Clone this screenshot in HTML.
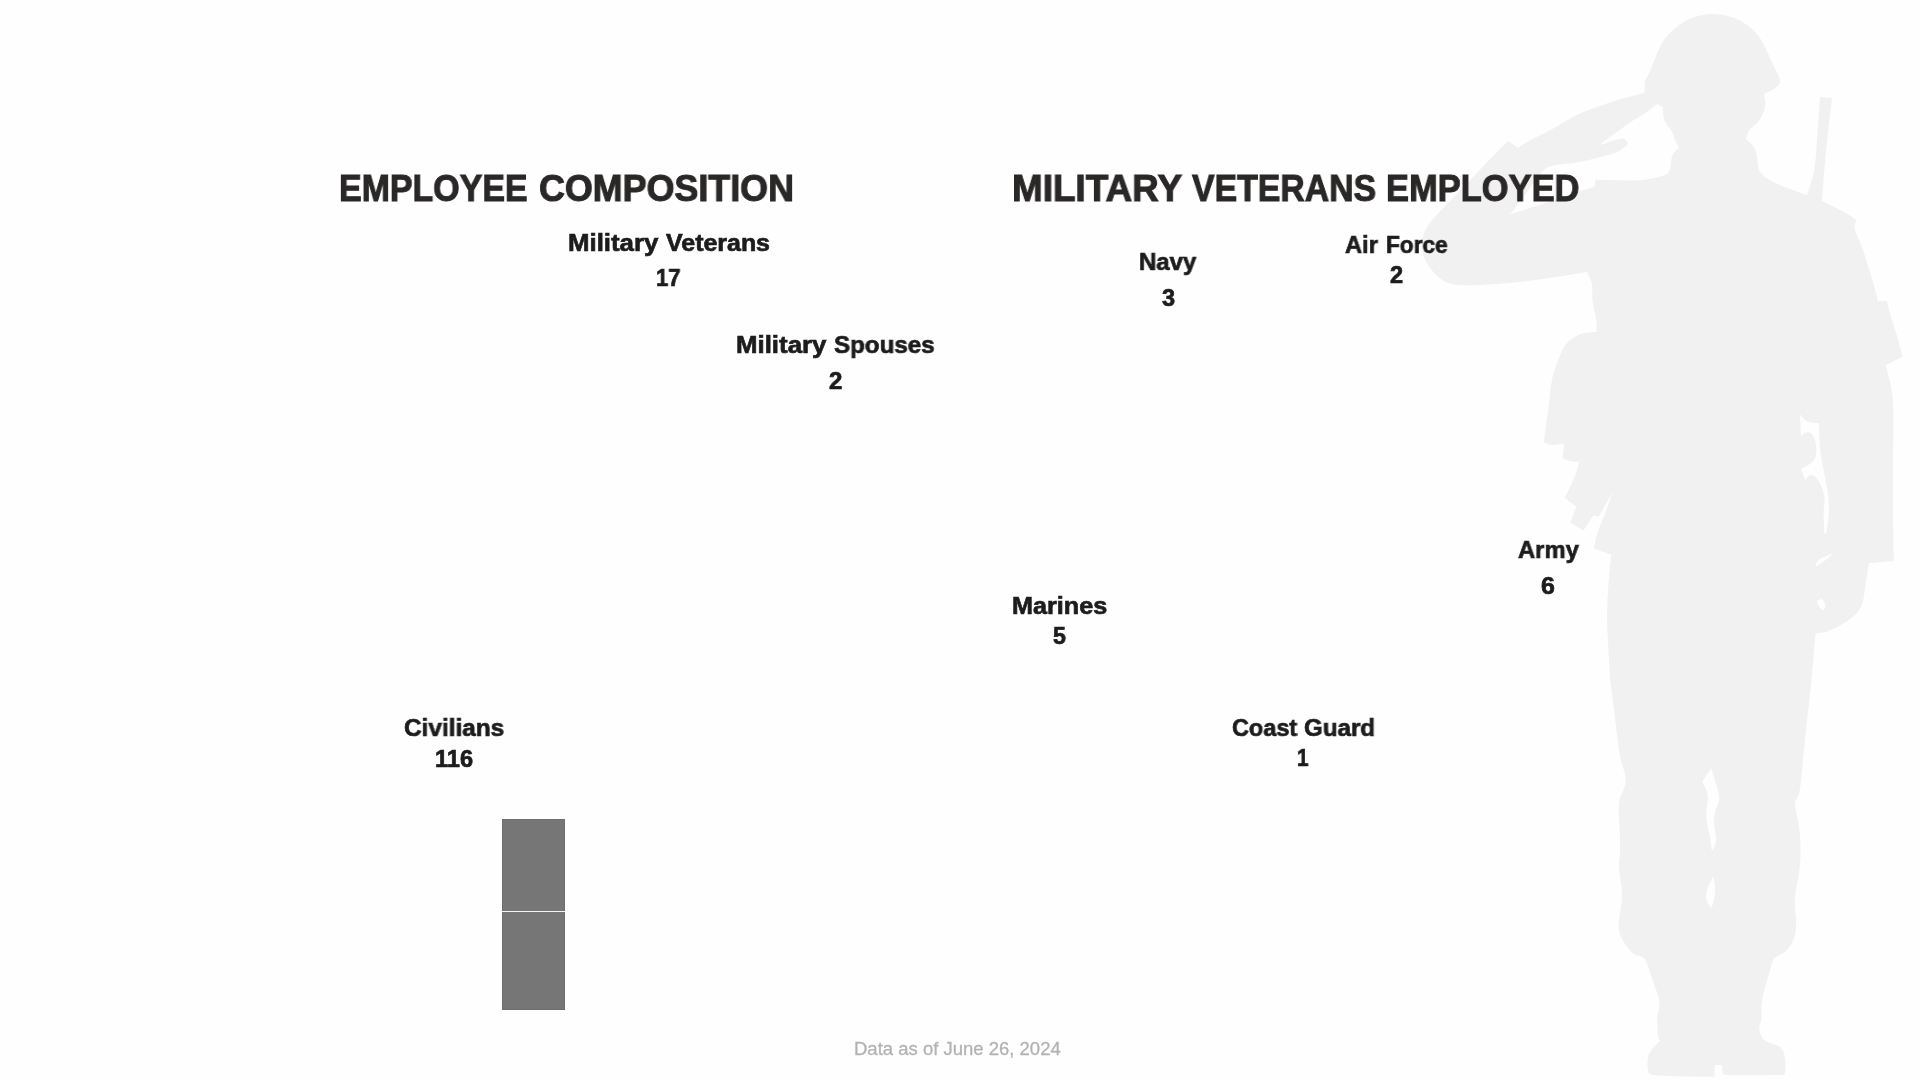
<!DOCTYPE html>
<html lang="en">
<head>
<meta charset="utf-8">
<title>Employee Composition &amp; Military Veterans Employed</title>
<style>
html,body{margin:0;padding:0;}
body{width:1920px;height:1080px;overflow:hidden;background:#fefefe;position:relative;
 font-family:"Liberation Sans",sans-serif;}
.stage{position:absolute;left:0;top:0;width:1920px;height:1080px;overflow:hidden;}
.sil{position:absolute;left:0;top:0;width:1920px;height:1080px;}
section,dl,footer,.item{margin:0;padding:0;display:block;}
h2,.l,.v,.f{position:absolute;left:0;top:0;margin:0;padding:0;line-height:1;white-space:nowrap;display:block;}
h2{font-size:37.4px;font-weight:700;color:#2a2727;-webkit-text-stroke:1.0px #2a2727;}
.l,.v{font-size:24.7px;font-weight:700;color:#1c1c1c;-webkit-text-stroke:0.7px #1c1c1c;}
.v{font-size:23.4px;}
.f{font-size:18.5px;font-weight:400;color:#b2b2b2;-webkit-text-stroke:.3px #b2b2b2;}
.w{position:absolute;top:0;display:block;white-space:nowrap;transform-origin:0 0;will-change:transform;}
.bar{position:absolute;left:502px;top:819px;width:63px;height:191px;background:#767676;box-shadow:inset 0 0 0 1px #6e6e6e;}
.bar i{position:absolute;left:0;right:0;top:91.5px;height:1.5px;background:#f4f4f4;display:block;}
</style>
</head>
<body>
<div class="stage">
<svg class="sil" viewBox="0 0 1920 1080" width="1920" height="1080" aria-hidden="true">
<path fill="#f1f1f1" fill-rule="evenodd" d="M1644.5,90.5 Q1645.0,88.0 1644.5,85.0 Q1644.0,82.0 1647.0,77.0 Q1650.0,72.0 1652.5,65.0 Q1655.0,58.0 1658.5,50.0 Q1662.0,42.0 1667.0,36.0 Q1672.0,30.0 1679.0,25.0 Q1686.0,20.0 1693.0,17.5 Q1700.0,15.0 1707.0,14.3 Q1714.0,13.6 1721.0,14.6 Q1728.0,15.6 1735.0,18.3 Q1742.0,21.0 1748.0,25.5 Q1754.0,30.0 1758.5,36.0 Q1763.0,42.0 1766.0,49.0 Q1769.0,56.0 1772.0,62.5 Q1775.0,69.0 1778.0,74.5 Q1781.0,80.0 1779.5,83.5 Q1778.0,87.0 1771.0,90.5 L1764.0,94.0 L1765.0,99.0 Q1766.0,104.0 1764.5,109.0 Q1763.0,114.0 1760.5,118.5 Q1758.0,123.0 1753.5,126.0 Q1749.0,129.0 1747.5,134.0 L1746.0,139.0 L1751.0,143.5 Q1756.0,148.0 1757.0,157.0 Q1758.0,166.0 1759.0,170.0 Q1760.0,174.0 1768.0,179.0 Q1776.0,184.0 1791.5,189.5 L1807.0,195.0 L1808.5,190.5 Q1810.0,186.0 1812.5,178.0 Q1815.0,170.0 1816.5,147.0 Q1818.0,124.0 1819.0,110.5 L1820.0,97.0 L1826.0,97.5 L1832.0,98.0 L1830.5,111.0 Q1829.0,124.0 1827.0,142.0 Q1825.0,160.0 1823.5,180.5 L1822.0,201.0 L1833.2,206.6 Q1844.4,212.2 1850.6,216.1 L1856.7,220.0 L1855.0,223.9 Q1853.3,227.8 1857.8,237.2 Q1862.2,246.7 1865.6,257.8 Q1868.9,268.9 1871.7,277.8 Q1874.4,286.7 1876.1,293.9 L1877.8,301.1 L1882.2,301.1 L1886.7,301.1 L1888.9,309.5 Q1891.1,317.8 1894.4,327.8 Q1897.8,337.8 1900.2,347.2 L1902.7,356.7 L1894.2,361.1 L1885.6,365.6 L1888.3,375.0 Q1891.1,384.4 1892.2,393.3 Q1893.3,402.2 1893.3,417.8 Q1893.3,433.3 1893.0,466.6 Q1892.7,500.0 1893.2,530.5 L1893.8,561.0 L1881.3,562.1 L1868.9,563.3 L1867.2,573.8 Q1865.6,584.4 1863.9,596.6 Q1862.2,608.9 1854.5,615.5 Q1846.7,622.2 1836.7,627.2 Q1826.7,632.2 1821.2,632.8 L1815.6,633.3 L1815.0,639.1 Q1814.4,645.0 1813.0,662.9 Q1811.6,680.7 1809.3,700.4 Q1807.0,720.0 1806.0,730.0 Q1805.0,740.0 1804.0,750.2 Q1802.9,760.4 1801.4,777.7 Q1799.9,795.0 1796.8,798.5 Q1793.7,802.1 1796.2,811.8 Q1798.8,821.5 1799.8,833.7 Q1800.9,845.9 1800.4,859.1 Q1799.9,872.4 1796.8,885.6 Q1793.7,898.9 1795.2,911.1 Q1796.8,923.4 1795.8,930.5 Q1794.8,937.6 1792.2,942.7 Q1789.5,947.8 1786.2,950.7 Q1783.0,953.6 1777.8,955.9 Q1772.6,958.2 1771.7,963.4 Q1770.7,968.5 1768.8,975.0 Q1766.8,981.5 1764.5,989.3 Q1762.3,997.1 1761.7,1003.5 Q1761.0,1010.0 1761.7,1014.5 Q1762.3,1019.1 1760.7,1022.3 Q1759.0,1025.6 1759.3,1029.5 Q1759.7,1033.4 1761.7,1037.0 Q1763.6,1040.5 1767.4,1042.1 Q1771.3,1043.7 1775.8,1045.0 Q1780.4,1046.3 1782.7,1050.2 Q1785.0,1054.1 1785.3,1061.9 Q1785.6,1069.7 1784.9,1072.3 L1784.3,1074.9 L1755.2,1075.2 Q1726.0,1075.5 1724.3,1074.5 Q1722.7,1073.6 1722.4,1069.3 L1722.1,1065.1 L1718.5,1065.1 L1714.9,1065.1 L1714.6,1070.9 L1714.3,1076.8 L1682.5,1076.5 Q1650.7,1076.2 1649.1,1073.6 Q1647.5,1071.0 1647.5,1063.8 Q1647.5,1056.7 1649.1,1053.5 Q1650.7,1050.2 1655.2,1045.7 L1659.8,1041.1 L1658.5,1037.2 Q1657.2,1033.4 1657.6,1029.5 Q1657.9,1025.6 1657.2,1021.0 Q1656.6,1016.5 1658.2,1012.0 Q1659.8,1007.4 1659.5,1002.9 Q1659.2,998.4 1656.6,991.2 Q1654.0,984.1 1651.1,975.7 Q1648.2,967.2 1646.6,962.4 Q1644.9,957.5 1641.3,956.5 Q1637.8,955.6 1635.3,954.8 Q1632.8,953.9 1627.7,947.8 Q1622.6,941.7 1620.0,934.5 Q1617.5,927.4 1619.0,919.2 Q1620.6,911.1 1621.6,901.0 Q1622.6,890.8 1620.3,878.5 Q1618.1,866.3 1619.3,860.2 Q1620.6,854.1 1620.0,839.9 Q1619.5,825.6 1618.8,813.4 Q1618.1,801.1 1620.8,796.0 Q1623.6,790.9 1625.2,784.8 Q1626.7,778.7 1623.7,769.5 Q1620.6,760.4 1619.0,750.2 Q1617.5,740.0 1615.2,720.0 Q1613.0,700.0 1611.5,690.4 Q1610.0,680.7 1609.0,660.4 Q1608.0,640.0 1607.3,628.4 Q1606.7,616.7 1607.5,600.0 Q1608.3,583.3 1609.8,569.0 L1611.3,554.7 L1602.6,551.6 L1593.9,548.5 L1595.3,541.2 Q1596.7,533.9 1600.8,524.1 Q1605.0,514.4 1608.8,503.3 L1612.6,492.2 L1605.7,504.4 L1598.8,516.5 L1596.0,516.1 L1593.2,515.8 L1588.3,523.1 L1583.5,530.4 L1576.9,526.6 L1570.3,522.8 L1573.4,514.8 L1576.5,506.8 L1570.6,502.3 L1564.7,497.8 L1570.2,486.7 Q1575.8,475.6 1577.5,468.6 L1579.3,461.7 L1574.8,461.7 Q1570.3,461.7 1566.4,459.9 L1562.6,458.2 L1563.3,450.9 L1564.0,443.6 L1557.4,444.6 Q1550.8,445.7 1547.3,443.9 L1543.9,442.2 L1545.3,431.1 Q1546.7,420.0 1547.5,415.0 Q1548.3,410.0 1550.0,393.4 Q1551.7,376.7 1555.0,368.4 Q1558.3,360.0 1561.7,351.6 Q1565.0,343.3 1572.5,338.3 Q1580.0,333.3 1588.3,332.5 L1596.7,331.7 L1596.7,325.9 Q1596.7,320.0 1594.2,310.0 Q1591.7,300.0 1592.3,292.0 Q1593.0,284.0 1590.0,278.0 L1587.0,272.0 L1575.0,274.0 Q1563.0,276.0 1542.5,279.0 Q1522.0,282.0 1496.5,284.0 Q1471.0,286.0 1459.0,285.0 Q1447.0,284.0 1440.0,278.5 Q1433.0,273.0 1428.0,265.0 Q1423.0,257.0 1422.0,249.0 Q1421.0,241.0 1423.5,234.0 Q1426.0,227.0 1433.5,218.5 Q1441.0,210.0 1453.0,198.0 Q1465.0,186.0 1476.5,173.5 Q1488.0,161.0 1498.0,151.0 L1508.0,141.0 L1513.0,144.5 L1518.0,148.0 L1522.0,145.0 Q1526.0,142.0 1540.5,135.0 Q1555.0,128.0 1566.0,121.0 Q1577.0,114.0 1588.5,110.0 Q1600.0,106.0 1610.0,102.5 Q1620.0,99.0 1632.0,96.0 L1644.0,93.0 L1644.5,90.5 Z M1660.0,105.5 L1663.0,107.0 L1663.0,111.5 Q1663.0,116.0 1664.5,120.5 Q1666.0,125.0 1669.0,127.5 Q1672.0,130.0 1673.0,134.0 Q1674.0,138.0 1676.5,143.0 L1679.0,148.0 L1676.0,150.5 Q1673.0,153.0 1672.0,156.5 Q1671.0,160.0 1670.5,166.0 Q1670.0,172.0 1667.0,174.0 Q1664.0,176.0 1652.0,178.5 Q1640.0,181.0 1630.0,180.5 Q1620.0,180.0 1607.8,179.9 L1595.5,179.8 L1595.0,183.4 L1594.5,186.9 L1586.8,188.9 Q1579.2,191.0 1560.8,197.6 Q1542.5,204.2 1526.2,209.3 L1510.0,214.4 L1518.1,204.2 Q1526.2,194.0 1534.3,181.8 Q1542.5,169.6 1548.7,167.1 Q1554.8,164.5 1563.9,164.0 Q1573.1,163.5 1584.3,160.9 Q1595.5,158.4 1604.7,155.9 Q1613.8,153.3 1616.9,152.2 Q1620.0,151.0 1624.0,147.5 L1628.0,144.0 L1627.0,141.5 Q1626.0,139.0 1623.0,138.5 Q1620.0,138.0 1611.8,141.1 Q1603.6,144.1 1601.0,144.6 L1598.5,145.2 L1609.2,137.6 Q1620.0,130.0 1625.0,126.0 Q1630.0,122.0 1638.0,117.5 Q1646.0,113.0 1651.5,108.5 L1657.0,104.0 L1660.0,105.5 Z M1706.7,775.1 L1702.1,781.8 L1705.7,788.4 Q1709.2,795.0 1707.2,805.2 Q1705.1,815.4 1707.7,826.6 Q1710.2,837.8 1711.0,844.4 L1711.8,851.0 L1714.5,846.5 Q1717.3,841.9 1715.3,831.7 Q1713.3,821.5 1714.3,815.4 Q1715.3,809.3 1717.8,804.2 Q1720.4,799.1 1718.3,792.0 Q1716.3,784.8 1713.8,776.6 L1711.2,768.5 L1706.7,775.1 Z M1709.0,884.6 Q1705.1,892.8 1706.2,897.9 Q1707.2,903.0 1709.4,905.5 L1711.6,908.1 L1713.4,901.5 Q1715.3,894.8 1715.0,888.7 Q1714.7,882.6 1713.8,879.5 L1712.9,876.5 L1709.0,884.6 Z M1803.3,418.3 Q1806.7,422.2 1812.8,422.8 L1818.9,423.3 L1819.5,438.3 Q1820.0,453.3 1822.2,463.3 Q1824.4,473.3 1827.2,488.9 Q1830.0,504.4 1828.3,518.8 Q1826.7,533.3 1825.6,533.8 L1824.4,534.4 L1823.8,521.6 Q1823.3,508.9 1824.4,503.4 Q1825.6,497.8 1822.8,490.0 Q1820.0,482.2 1816.7,478.3 Q1813.3,474.4 1810.5,475.0 Q1807.8,475.6 1806.7,478.4 L1805.6,481.1 L1803.3,475.0 L1801.1,468.9 L1806.7,466.1 Q1812.2,463.3 1814.5,459.5 Q1816.7,455.6 1816.2,447.8 Q1815.6,440.0 1813.3,436.1 Q1811.1,432.2 1807.8,432.2 Q1804.4,432.2 1802.8,434.4 L1801.1,436.7 L1800.5,425.5 L1800.0,414.4 L1803.3,418.3 Z M1816.3,563.4 Q1817.0,560.0 1824.5,556.8 L1832.0,553.5 L1831.0,555.2 Q1830.0,557.0 1822.8,561.9 L1815.6,566.7 L1816.3,563.4 Z M1819.0,599.8 L1821.0,598.5 L1823.0,600.2 Q1825.0,602.0 1825.2,605.0 Q1825.5,608.0 1824.2,609.2 L1823.0,610.5 L1821.0,608.8 Q1819.0,607.0 1818.0,604.0 L1817.0,601.0 L1819.0,599.8 Z"/>
</svg>
<section class="chart" aria-label="Employee Composition">
<h2 style="top:170px"><span class="w" style="left:339px;transform:scaleX(0.9077)">EMPLOYEE</span> <span class="w" style="left:539px;transform:scaleX(0.9587)">COMPOSITION</span></h2>
<dl>
<div class="item"><dt class="l" style="top:231px"><span class="w" style="left:568px;transform:scaleX(1.0458)">Military</span> <span class="w" style="left:666px;transform:scaleX(1.0103)">Veterans</span></dt><dd class="v" style="top:267px"><span class="w" style="left:656px;transform:scaleX(0.9427)">17</span></dd></div>
<div class="item"><dt class="l" style="top:333px"><span class="w" style="left:736px;transform:scaleX(1.0460)">Military</span> <span class="w" style="left:834px;transform:scaleX(0.9767)">Spouses</span></dt><dd class="v" style="top:370px"><span class="w" style="left:829px;transform:scaleX(1.0266)">2</span></dd></div>
<div class="item"><dt class="l" style="top:716px"><span class="w" style="left:404px;transform:scaleX(0.9867)">Civilians</span></dt><dd class="v" style="top:748px"><span class="w" style="left:435px;transform:scaleX(1.0101)">116</span></dd></div>
</dl>
<div class="bar" role="img" aria-label="chart bar"><i></i></div>
</section>
<section class="chart" aria-label="Military Veterans Employed">
<h2 style="top:170px"><span class="w" style="left:1012px;transform:scaleX(0.9867)">MILITARY</span> <span class="w" style="left:1192px;transform:scaleX(0.9037)">VETERANS</span> <span class="w" style="left:1386px;transform:scaleX(0.9218)">EMPLOYED</span></h2>
<dl>
<div class="item"><dt class="l" style="top:250px"><span class="w" style="left:1139px;transform:scaleX(0.9715)">Navy</span></dt><dd class="v" style="top:287px"><span class="w" style="left:1162px;transform:scaleX(1.0072)">3</span></dd></div>
<div class="item"><dt class="l" style="top:233px"><span class="w" style="left:1345px;transform:scaleX(0.9595)">Air</span> <span class="w" style="left:1386px;transform:scaleX(0.9166)">Force</span></dt><dd class="v" style="top:264px"><span class="w" style="left:1390px;transform:scaleX(1.0077)">2</span></dd></div>
<div class="item"><dt class="l" style="top:538px"><span class="w" style="left:1518px;transform:scaleX(0.9633)">Army</span></dt><dd class="v" style="top:575px"><span class="w" style="left:1541px;transform:scaleX(1.0680)">6</span></dd></div>
<div class="item"><dt class="l" style="top:594px"><span class="w" style="left:1012px;transform:scaleX(1.0197)">Marines</span></dt><dd class="v" style="top:625px"><span class="w" style="left:1053px;transform:scaleX(0.9862)">5</span></dd></div>
<div class="item"><dt class="l" style="top:716px"><span class="w" style="left:1232px;transform:scaleX(0.9496)">Coast</span> <span class="w" style="left:1304px;transform:scaleX(0.9786)">Guard</span></dt><dd class="v" style="top:747px"><span class="w" style="left:1297px;transform:scaleX(0.8815)">1</span></dd></div>
</dl>
</section>
<footer><p class="f" style="top:1040px"><span class="w" style="left:854px;transform:scaleX(0.9984)">Data as of June 26, 2024</span></p></footer>
</div>
</body>
</html>
